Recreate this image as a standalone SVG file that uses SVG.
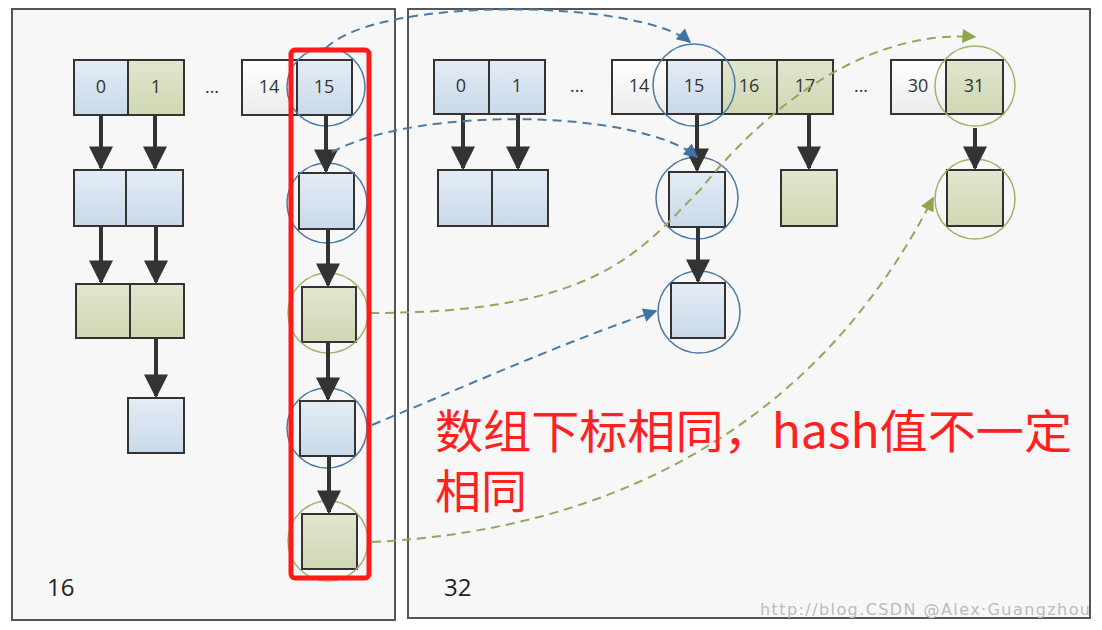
<svg xmlns="http://www.w3.org/2000/svg" width="1102" height="630" viewBox="0 0 1102 630">
<style>
.pn{fill:#f7f7f7;stroke:#555;stroke-width:2}
.b{fill:url(#gb);stroke:#333;stroke-width:2}
.g{fill:url(#gg);stroke:#333;stroke-width:2}
.w{fill:url(#gw);stroke:#333;stroke-width:2}
.t{font-family:"Open Sans","DejaVu Sans",sans-serif;font-size:18px;fill:#333;text-anchor:middle}
.cb{fill:none;stroke:#4a7aa6;stroke-width:1.5}
.cg{fill:none;stroke:#a3b26a;stroke-width:1.5}
.a{stroke:#333;stroke-width:4;fill:none;marker-end:url(#ah)}
.db{fill:none;stroke:#4a7aa6;stroke-width:2;stroke-dasharray:9 6;marker-end:url(#mb)}
.dg{fill:none;stroke:#93a85a;stroke-width:2;stroke-dasharray:9 6;marker-end:url(#mg)}
</style>
<defs>
<linearGradient id="gb" x1="0" y1="0" x2="0" y2="1"><stop offset="0" stop-color="#e4ecf5"/><stop offset="1" stop-color="#c9d9e9"/></linearGradient>
<linearGradient id="gg" x1="0" y1="0" x2="0" y2="1"><stop offset="0" stop-color="#e1e6cf"/><stop offset="1" stop-color="#cfd7b3"/></linearGradient>
<linearGradient id="gw" x1="0" y1="0" x2="0" y2="1"><stop offset="0" stop-color="#ffffff"/><stop offset="1" stop-color="#ececec"/></linearGradient>
<marker id="ah" viewBox="0 0 10 10" refX="9" refY="5" markerWidth="6" markerHeight="6" orient="auto" markerUnits="strokeWidth"><path d="M0,0 L10,5 L0,10 z" fill="#333"/></marker>
<marker id="mb" viewBox="0 0 10 10" refX="9" refY="5" markerWidth="15" markerHeight="14" orient="auto" markerUnits="userSpaceOnUse"><path d="M0,0 L10,5 L0,10 z" fill="#3f73a6"/></marker>
<marker id="mg" viewBox="0 0 10 10" refX="9" refY="5" markerWidth="15" markerHeight="14" orient="auto" markerUnits="userSpaceOnUse"><path d="M0,0 L10,5 L0,10 z" fill="#8ea64e"/></marker>
</defs>
<rect width="1102" height="630" fill="#fff"/>
<rect class="pn" x="12" y="9" width="383" height="611"/>
<rect class="pn" x="408" y="9" width="682" height="609"/>
<g id="left">
<rect class="b" x="74" y="60" width="54" height="55"/><text class="t" x="101" y="93">0</text>
<rect class="g" x="128" y="60" width="56" height="55"/><text class="t" x="156" y="93">1</text>
<text class="t" x="212" y="93">...</text>
<rect class="w" x="242" y="60" width="55" height="55"/><text class="t" x="269" y="93">14</text>
<rect class="b" x="297" y="60" width="55" height="55"/><text class="t" x="324" y="93">15</text>
<rect class="b" x="74" y="170" width="52" height="56"/><rect class="b" x="126" y="170" width="57" height="56"/>
<rect class="g" x="76" y="284" width="54" height="54"/><rect class="g" x="130" y="284" width="54" height="54"/>
<rect class="b" x="128" y="398" width="56" height="55"/>
<rect class="b" x="299" y="173" width="55" height="56"/>
<rect class="g" x="302" y="287" width="54" height="55"/>
<rect class="b" x="300" y="401" width="55" height="55"/>
<rect class="g" x="302" y="514" width="55" height="55"/>
<circle class="cb" cx="326" cy="87" r="39"/>
<circle class="cb" cx="327" cy="203" r="40"/>
<circle class="cg" cx="328" cy="313" r="40"/>
<circle class="cb" cx="327" cy="428" r="40"/>
<circle class="cg" cx="328" cy="541" r="40"/>
<text x="47" y="596" style="font-family:'Open Sans','DejaVu Sans',sans-serif;font-size:24px;fill:#222">16</text>
</g>
<g id="right">
<rect class="b" x="434" y="60" width="55" height="54"/><text class="t" x="461" y="92">0</text>
<rect class="b" x="489" y="60" width="56" height="54"/><text class="t" x="517" y="92">1</text>
<text class="t" x="577" y="92">...</text>
<rect class="w" x="612" y="60" width="55" height="54"/><text class="t" x="639" y="92">14</text>
<rect class="b" x="667" y="60" width="55" height="54"/><text class="t" x="694" y="92">15</text>
<rect class="g" x="722" y="60" width="55" height="54"/><text class="t" x="749" y="92">16</text>
<rect class="g" x="777" y="60" width="56" height="54"/><text class="t" x="805" y="92">17</text>
<text class="t" x="861" y="92">...</text>
<rect class="w" x="891" y="60" width="55" height="54"/><text class="t" x="918" y="92">30</text>
<rect class="g" x="946" y="60" width="57" height="54"/><text class="t" x="974" y="92">31</text>
<rect class="b" x="438" y="170" width="54" height="56"/><rect class="b" x="492" y="170" width="56" height="56"/>
<rect class="b" x="669" y="172" width="56" height="55"/>
<rect class="g" x="781" y="170" width="56" height="56"/>
<rect class="g" x="947" y="170" width="56" height="56"/>
<rect class="b" x="671" y="283" width="54" height="55"/>
<circle class="cb" cx="694" cy="85" r="41"/>
<circle class="cb" cx="697" cy="198" r="41"/>
<circle class="cb" cx="699" cy="312" r="41"/>
<circle class="cg" cx="975" cy="86" r="40"/>
<circle class="cg" cx="975" cy="199" r="40"/>
<text x="444" y="596" style="font-family:'Open Sans','DejaVu Sans',sans-serif;font-size:24px;fill:#222">32</text>
</g>
<g id="connectors">
<path class="a" d="M101,115 V168"/><path class="a" d="M155,115 V168"/>
<path class="a" d="M101,226 V282"/><path class="a" d="M156,226 V282"/>
<path class="a" d="M156,338 V396"/>
<path class="a" d="M326,115 V171"/><path class="a" d="M328,229 V285"/>
<path class="a" d="M328,342 V399"/><path class="a" d="M329,456 V512"/>
<path class="a" d="M463,114 V168"/><path class="a" d="M518,114 V168"/>
<path class="a" d="M697,114 V170"/><path class="a" d="M698,227 V281"/>
<path class="a" d="M809,114 V168"/><path class="a" d="M975,128 V168"/>
<path class="db" d="M326,48 C380,-5 640,0 690,42"/>
<path class="db" d="M332,152 C420,105 640,110 697,157"/>
<path class="dg" d="M370,313 C600,313 640,250 700,190 C780,90 880,30 975,37"/>
<path class="db" d="M372,425 C480,380 570,340 656,311"/>
<path class="dg" d="M372,542 C620,530 820,420 933,198"/>
</g>
<rect x="291" y="50" width="78" height="528" rx="4" fill="none" stroke="#ff1a1a" stroke-width="5"/>
<text x="435" y="448" textLength="637" lengthAdjust="spacingAndGlyphs" style="font-family:'Noto Sans CJK SC',sans-serif;font-size:46px;fill:#ff2020">数组下标相同，hash值不一定</text>
<text x="435" y="508" style="font-family:'Noto Sans CJK SC',sans-serif;font-size:46px;fill:#ff2020">相同</text>
<text x="760" y="615" textLength="330" style="font-family:'DejaVu Sans',sans-serif;font-size:16px;fill:#bbb">http://blog.CSDN @Alex·Guangzhou</text>
</svg>
